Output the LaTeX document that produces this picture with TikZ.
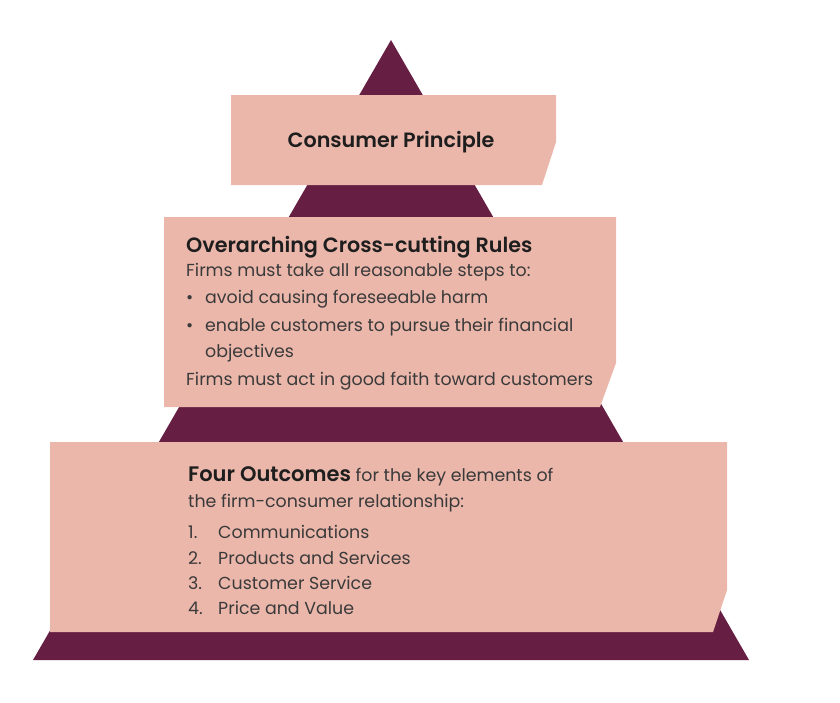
\documentclass[tikz,border=0pt]{standalone}
\usepackage{fontspec}
\setmainfont{Poppins}[BoldFont={Poppins SemiBold}]
\definecolor{plum}{HTML}{661F42}
\definecolor{blush}{HTML}{ECB7AB}
\definecolor{inkdark}{HTML}{1E1E1E}
\definecolor{inkbody}{HTML}{3A3A3A}
\begin{document}
\begin{tikzpicture}[x=1pt,y=-1pt,
  boxfill/.style={fill=blush},
  head/.style={anchor=base west, inner sep=0pt, text=inkdark, font=\fontsize{20.7}{24}\selectfont\bfseries},
  body/.style={anchor=base west, inner sep=0pt, text=inkbody, font=\fontsize{17.4}{21}\selectfont}]
\useasboundingbox (0,0) rectangle (840,702);
% pyramid
\fill[plum] (391,40) -- (749,660) -- (33,660) -- cycle;
% boxes
\fill[boxfill] (231,95) -- (556,95) -- (556,142) -- (542,185) -- (231,185) -- cycle;
\fill[boxfill] (164,217) -- (616,217) -- (616,363) -- (600,407) -- (164,407) -- cycle;
\fill[boxfill] (50,442) -- (727,442) -- (727,590) -- (713,632) -- (50,632) -- cycle;
% top box
\node[head, anchor=base] (cp) at (391,147) {Consumer Principle};
% middle box
\node[head] (ocr) at (186,252) {Overarching Cross-cutting Rules};
\node[body] (l1) at (186,276) {Firms must take all reasonable steps to:};
\node[body] (b1d) at (186,303) {•};
\node[body] (b1) at (205,303) {avoid causing foreseeable harm};
\node[body] (b2d) at (186,331) {•};
\node[body] (b2) at (205,331) {enable customers to pursue their financial};
\node[body] (b2c) at (205,357) {objectives};
\node[body] (l2) at (186,385) {Firms must act in good faith toward customers};
% bottom box
\node[body] (fo) at (188,481) {{\color{inkdark}\fontsize{21}{24}\selectfont\bfseries Four Outcomes} for the key elements of};
\node[body] (fo2) at (188,507) {the firm-consumer relationship:};
\node[body] (n1) at (188,538) {1.};
\node[body] (i1) at (218,538) {Communications};
\node[body] (n2) at (188,564) {2.};
\node[body] (i2) at (218,564) {Products and Services};
\node[body] (n3) at (188,589) {3.};
\node[body] (i3) at (218,589) {Customer Service};
\node[body] (n4) at (188,614) {4.};
\node[body] (i4) at (218,614) {Price and Value};
\end{tikzpicture}
\end{document}
